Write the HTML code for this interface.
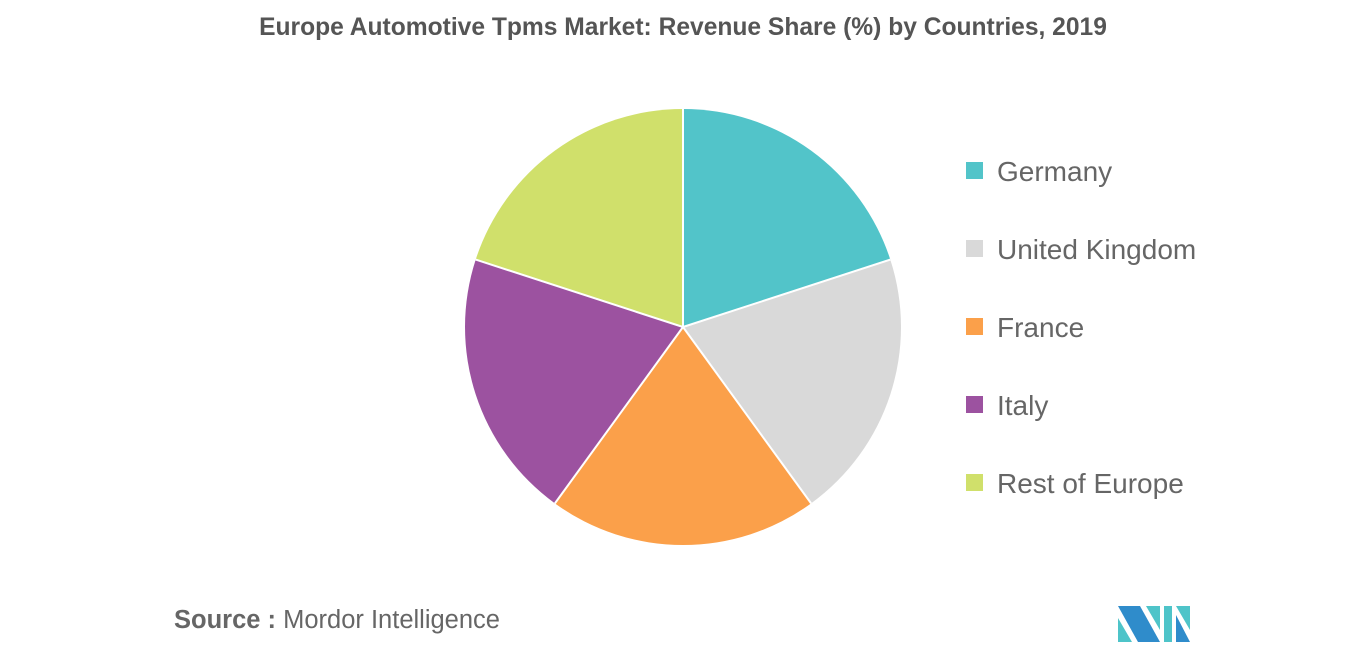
<!DOCTYPE html>
<html><head><meta charset="utf-8"><style>
body{margin:0;width:1366px;height:655px;background:#fff;overflow:hidden;font-family:"Liberation Sans",sans-serif;}
.t{position:absolute;left:0;width:1366px;top:14px;text-align:center;font-size:24.6px;font-weight:bold;color:#555;}
.lg{position:absolute;left:966px;font-size:28px;color:#666;}
.lg span{display:inline-block;width:17px;height:17px;margin-right:14px;vertical-align:2px;}
.src{position:absolute;left:174px;top:606px;font-size:25.5px;color:#666;}
</style></head><body>
<div class="t">Europe Automotive Tpms Market: Revenue Share (%) by Countries, 2019</div>
<svg width="1366" height="655" style="position:absolute;left:0;top:0">
<path d="M683,327 L683,109 A218,218 0 0 1 890.3,259.6 Z" fill="#52c4c9"/>
<path d="M683,327 L890.3,259.6 A218,218 0 0 1 811.1,503.4 Z" fill="#d9d9d9"/>
<path d="M683,327 L811.1,503.4 A218,218 0 0 1 554.9,503.4 Z" fill="#fba04a"/>
<path d="M683,327 L554.9,503.4 A218,218 0 0 1 475.7,259.6 Z" fill="#9c52a0"/>
<path d="M683,327 L475.7,259.6 A218,218 0 0 1 683,109 Z" fill="#d0e06b"/>
<g stroke="#fff" stroke-width="2">
<line x1="683" y1="327" x2="683" y2="109"/><line x1="683" y1="327" x2="890.3" y2="259.6"/>
<line x1="683" y1="327" x2="811.1" y2="503.4"/><line x1="683" y1="327" x2="554.9" y2="503.4"/>
<line x1="683" y1="327" x2="475.7" y2="259.6"/></g>
<polygon points="1118,606 1140,606 1160,642 1138,642" fill="#2f8ccb"/>
<polygon points="1118,618 1132,642 1118,642" fill="#4ec4c9"/>
<polygon points="1146,606 1160,606 1160,630" fill="#4ec4c9"/>
<polygon points="1164,606 1172,606 1172,642 1164,642" fill="#4ec4c9"/>
<polygon points="1176,606 1190,606 1190,630" fill="#4ec4c9"/>
<polygon points="1176,615 1190,642 1176,642" fill="#2f8ccb"/>
</svg>
<div class="lg" style="top:156px"><span style="background:#52c4c9"></span>Germany</div>
<div class="lg" style="top:234px"><span style="background:#d9d9d9"></span>United Kingdom</div>
<div class="lg" style="top:312px"><span style="background:#fba04a"></span>France</div>
<div class="lg" style="top:390px"><span style="background:#9c52a0"></span>Italy</div>
<div class="lg" style="top:468px"><span style="background:#d0e06b"></span>Rest of Europe</div>
<div class="src"><b>Source :</b> Mordor Intelligence</div>
</body></html>
